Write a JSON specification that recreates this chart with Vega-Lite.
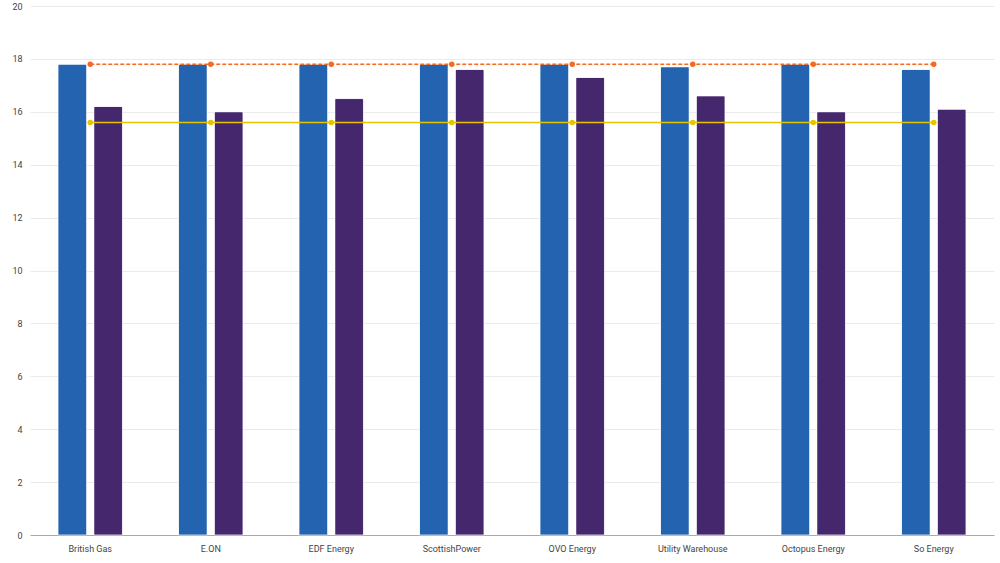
{
  "$schema": "https://vega.github.io/schema/vega-lite/v6.json",
  "autosize": "none",
  "width": 964,
  "height": 529,
  "padding": {"left": 30, "top": 6, "right": 6, "bottom": 28},
  "background": "white",
  "datasets": {
    "bars": [
      {"supplier": "British Gas", "series": "A", "value": 17.8},
      {"supplier": "British Gas", "series": "B", "value": 16.2},
      {"supplier": "E.ON", "series": "A", "value": 17.8},
      {"supplier": "E.ON", "series": "B", "value": 16.0},
      {"supplier": "EDF Energy", "series": "A", "value": 17.8},
      {"supplier": "EDF Energy", "series": "B", "value": 16.5},
      {"supplier": "ScottishPower", "series": "A", "value": 17.8},
      {"supplier": "ScottishPower", "series": "B", "value": 17.6},
      {"supplier": "OVO Energy", "series": "A", "value": 17.8},
      {"supplier": "OVO Energy", "series": "B", "value": 17.3},
      {"supplier": "Utility Warehouse", "series": "A", "value": 17.7},
      {"supplier": "Utility Warehouse", "series": "B", "value": 16.6},
      {"supplier": "Octopus Energy", "series": "A", "value": 17.8},
      {"supplier": "Octopus Energy", "series": "B", "value": 16.0},
      {"supplier": "So Energy", "series": "A", "value": 17.6},
      {"supplier": "So Energy", "series": "B", "value": 16.1}
    ],
    "lines": [
      {"supplier": "British Gas", "series": "Orange", "value": 17.8},
      {"supplier": "E.ON", "series": "Orange", "value": 17.8},
      {"supplier": "EDF Energy", "series": "Orange", "value": 17.8},
      {"supplier": "ScottishPower", "series": "Orange", "value": 17.8},
      {"supplier": "OVO Energy", "series": "Orange", "value": 17.8},
      {"supplier": "Utility Warehouse", "series": "Orange", "value": 17.8},
      {"supplier": "Octopus Energy", "series": "Orange", "value": 17.8},
      {"supplier": "So Energy", "series": "Orange", "value": 17.8},
      {"supplier": "British Gas", "series": "Yellow", "value": 15.6},
      {"supplier": "E.ON", "series": "Yellow", "value": 15.6},
      {"supplier": "EDF Energy", "series": "Yellow", "value": 15.6},
      {"supplier": "ScottishPower", "series": "Yellow", "value": 15.6},
      {"supplier": "OVO Energy", "series": "Yellow", "value": 15.6},
      {"supplier": "Utility Warehouse", "series": "Yellow", "value": 15.6},
      {"supplier": "Octopus Energy", "series": "Yellow", "value": 15.6},
      {"supplier": "So Energy", "series": "Yellow", "value": 15.6}
    ]
  },
  "encoding": {
    "x": {
      "field": "supplier",
      "type": "nominal",
      "sort": null,
      "title": null,
      "scale": {"paddingInner": 0, "paddingOuter": 0},
      "axis": {
        "labelAngle": 0,
        "labelFont": "Roboto",
        "labelFontSize": 9,
        "labelColor": "#444444",
        "labelPadding": 9,
        "ticks": false,
        "domainColor": "#aaaaaa",
        "grid": false
      }
    },
    "y": {
      "field": "value",
      "type": "quantitative",
      "title": null,
      "scale": {"domain": [0, 20], "nice": false},
      "axis": {
        "values": [0, 2, 4, 6, 8, 10, 12, 14, 16, 18, 20],
        "labelFont": "Roboto",
        "labelFontSize": 9,
        "labelColor": "#444444",
        "labelPadding": 8,
        "ticks": false,
        "domain": false,
        "gridColor": "#ebebeb"
      }
    }
  },
  "layer": [
    {
      "data": {"name": "bars"},
      "mark": {
        "type": "bar",
        "cornerRadiusTopLeft": 1.5,
        "cornerRadiusTopRight": 1.5,
        "stroke": "#ffffff",
        "strokeOpacity": 0.4,
        "strokeWidth": 1
      },
      "encoding": {
        "x": {
          "field": "supplier",
          "type": "nominal",
          "sort": null,
          "scale": {"paddingInner": 0.465, "paddingOuter": 0.2325}
        },
        "xOffset": {
          "field": "series",
          "type": "nominal",
          "scale": {"paddingInner": 0.2, "paddingOuter": 0}
        },
        "color": {
          "field": "series",
          "type": "nominal",
          "scale": {"domain": ["A", "B"], "range": ["#2463b0", "#45276e"]},
          "legend": null
        }
      }
    },
    {
      "data": {"name": "lines"},
      "mark": {"type": "line", "strokeWidth": 1.5},
      "encoding": {
        "color": {
          "field": "series",
          "type": "nominal",
          "scale": {"domain": ["Orange", "Yellow"], "range": ["#f26b21", "#e6c500"]},
          "legend": null
        },
        "strokeDash": {
          "field": "series",
          "type": "nominal",
          "scale": {"domain": ["Orange", "Yellow"], "range": [[4, 2], [1, 0]]},
          "legend": null
        }
      }
    },
    {
      "data": {"name": "lines"},
      "mark": {"type": "point", "filled": true, "size": 30, "opacity": 1},
      "encoding": {
        "color": {
          "field": "series",
          "type": "nominal",
          "scale": {"domain": ["Orange", "Yellow"], "range": ["#f26b21", "#e6c500"]},
          "legend": null
        }
      }
    }
  ],
  "resolve": {"scale": {"color": "independent"}},
  "config": {"view": {"stroke": null}}
}
